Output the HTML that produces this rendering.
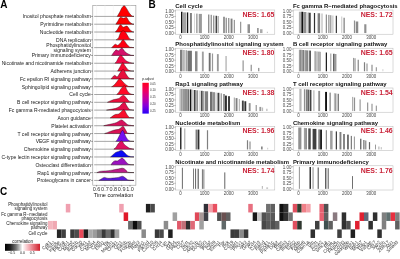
<!DOCTYPE html>
<html><head><meta charset="utf-8"><title>Figure</title>
<style>html,body{margin:0;padding:0;background:#fff;} svg{display:block;}</style></head>
<body><svg width="400" height="259" viewBox="0 0 400 259" font-family="'Liberation Sans', Arial, sans-serif">
<rect width="400" height="259" fill="#fff"/>
<text x="0.2" y="7.65" font-size="10" font-weight="bold">A</text>
<text x="148.6" y="7.65" font-size="10" font-weight="bold">B</text>
<text x="0.1" y="194.8" font-size="10" font-weight="bold">C</text>
<rect x="92.8" y="5.3" width="43.10000000000001" height="179.89999999999998" fill="#fff" stroke="#8a8a8a" stroke-width="0.55"/>
<line x1="96.60" y1="5.3" x2="96.60" y2="185.2" stroke="#f0f0f0" stroke-width="0.5"/>
<line x1="104.95" y1="5.3" x2="104.95" y2="185.2" stroke="#f0f0f0" stroke-width="0.5"/>
<line x1="113.30" y1="5.3" x2="113.30" y2="185.2" stroke="#f0f0f0" stroke-width="0.5"/>
<line x1="121.65" y1="5.3" x2="121.65" y2="185.2" stroke="#f0f0f0" stroke-width="0.5"/>
<line x1="130.00" y1="5.3" x2="130.00" y2="185.2" stroke="#f0f0f0" stroke-width="0.5"/>
<line x1="94.2" y1="16.40" x2="134.0" y2="16.40" stroke="#888" stroke-width="0.75"/>
<path d="M117.20,16.40 C117.58,15.77 118.73,14.00 119.50,12.60 C120.27,11.20 121.00,9.15 121.80,8.00 C122.60,6.85 123.45,5.55 124.30,5.70 C125.15,5.85 126.00,7.58 126.90,8.90 C127.80,10.22 128.85,12.42 129.70,13.60 C130.55,14.77 131.42,15.50 132.00,15.95 C132.58,16.40 132.87,16.20 133.20,16.28 C133.53,16.35 133.87,16.38 134.00,16.40 Z" fill="#FF0000" stroke="#1a0006" stroke-opacity="0.75" stroke-width="0.5"/>
<line x1="94.2" y1="24.21" x2="134.0" y2="24.21" stroke="#888" stroke-width="0.75"/>
<path d="M115.80,24.21 C116.10,23.76 116.85,22.66 117.60,21.51 C118.35,20.36 119.30,17.86 120.30,17.31 C121.30,16.76 122.57,18.21 123.60,18.21 C124.63,18.21 125.57,16.76 126.50,17.31 C127.43,17.86 128.28,20.43 129.20,21.51 C130.12,22.58 131.33,23.33 132.00,23.76 C132.67,24.19 132.87,24.01 133.20,24.09 C133.53,24.16 133.87,24.19 134.00,24.21 Z" fill="#FF0000" stroke="#1a0006" stroke-opacity="0.75" stroke-width="0.5"/>
<line x1="94.2" y1="32.02" x2="134.0" y2="32.02" stroke="#888" stroke-width="0.75"/>
<path d="M115.30,32.02 C115.62,31.65 116.35,31.04 117.20,29.82 C118.05,28.60 119.40,25.17 120.40,24.72 C121.40,24.27 122.12,26.89 123.20,27.12 C124.28,27.35 125.82,25.74 126.90,26.12 C127.98,26.50 128.85,28.51 129.70,29.42 C130.55,30.33 131.42,31.16 132.00,31.57 C132.58,31.98 132.87,31.82 133.20,31.90 C133.53,31.97 133.87,32.00 134.00,32.02 Z" fill="#FF0004" stroke="#1a0006" stroke-opacity="0.75" stroke-width="0.5"/>
<line x1="94.2" y1="39.83" x2="134.0" y2="39.83" stroke="#888" stroke-width="0.75"/>
<path d="M116.20,39.83 C116.60,39.46 117.90,38.76 118.60,37.63 C119.30,36.50 119.63,34.18 120.40,33.03 C121.17,31.88 122.27,30.73 123.20,30.73 C124.13,30.73 125.07,31.88 126.00,33.03 C126.93,34.18 127.95,36.57 128.80,37.63 C129.65,38.69 130.45,39.03 131.10,39.38 C131.75,39.73 132.22,39.63 132.70,39.71 C133.18,39.79 133.78,39.81 134.00,39.83 Z" fill="#FF0010" stroke="#1a0006" stroke-opacity="0.75" stroke-width="0.5"/>
<line x1="94.2" y1="47.64" x2="134.0" y2="47.64" stroke="#888" stroke-width="0.75"/>
<path d="M111.60,47.64 C112.22,47.07 114.30,44.62 115.30,44.24 C116.30,43.86 116.75,45.54 117.60,45.34 C118.45,45.14 119.47,43.97 120.40,43.04 C121.33,42.11 122.12,39.52 123.20,39.74 C124.28,39.96 125.82,43.11 126.90,44.34 C127.98,45.57 129.02,46.66 129.70,47.14 C130.38,47.62 130.52,47.13 131.00,47.19 C131.48,47.25 132.10,47.45 132.60,47.52 C133.10,47.60 133.77,47.62 134.00,47.64 Z" fill="#FF0012" stroke="#1a0006" stroke-opacity="0.75" stroke-width="0.5"/>
<line x1="94.2" y1="55.45" x2="134.0" y2="55.45" stroke="#888" stroke-width="0.75"/>
<path d="M111.60,55.45 C111.98,54.90 113.13,53.08 113.90,52.15 C114.67,51.22 115.42,50.08 116.20,49.85 C116.98,49.62 117.67,51.05 118.60,50.75 C119.53,50.45 120.80,47.97 121.80,48.05 C122.80,48.13 123.75,50.40 124.60,51.25 C125.45,52.10 125.90,52.52 126.90,53.15 C127.90,53.77 129.72,54.64 130.60,55.00 C131.48,55.36 131.63,55.25 132.20,55.33 C132.77,55.41 133.70,55.43 134.00,55.45 Z" fill="#D4106A" stroke="#1a0006" stroke-opacity="0.75" stroke-width="0.5"/>
<line x1="94.2" y1="63.26" x2="134.0" y2="63.26" stroke="#888" stroke-width="0.75"/>
<path d="M114.80,63.26 C115.12,62.93 116.07,62.21 116.70,61.26 C117.33,60.31 117.90,58.58 118.60,57.56 C119.30,56.54 120.13,55.16 120.90,55.16 C121.67,55.16 122.43,56.71 123.20,57.56 C123.97,58.41 124.73,59.58 125.50,60.26 C126.27,60.94 126.88,61.23 127.80,61.66 C128.72,62.08 130.20,62.56 131.00,62.81 C131.80,63.06 132.10,63.06 132.60,63.14 C133.10,63.22 133.77,63.24 134.00,63.26 Z" fill="#F20A48" stroke="#1a0006" stroke-opacity="0.75" stroke-width="0.5"/>
<line x1="94.2" y1="71.07" x2="134.0" y2="71.07" stroke="#888" stroke-width="0.75"/>
<path d="M117.60,71.07 C117.98,70.42 119.05,68.57 119.90,67.17 C120.75,65.77 121.85,62.90 122.70,62.67 C123.55,62.44 124.15,64.64 125.00,65.77 C125.85,66.90 127.02,68.66 127.80,69.47 C128.58,70.28 129.12,70.37 129.70,70.62 C130.28,70.87 130.58,70.87 131.30,70.95 C132.02,71.02 133.55,71.05 134.00,71.07 Z" fill="#F50A30" stroke="#1a0006" stroke-opacity="0.75" stroke-width="0.5"/>
<line x1="94.2" y1="78.88" x2="134.0" y2="78.88" stroke="#888" stroke-width="0.75"/>
<path d="M111.10,78.88 C111.65,78.30 113.38,75.73 114.40,75.38 C115.42,75.03 116.28,77.16 117.20,76.78 C118.12,76.40 118.90,74.31 119.90,73.08 C120.90,71.85 122.18,69.23 123.20,69.38 C124.22,69.53 125.15,72.66 126.00,73.98 C126.85,75.30 127.62,76.54 128.30,77.28 C128.98,78.02 129.53,78.18 130.10,78.43 C130.67,78.68 131.05,78.68 131.70,78.76 C132.35,78.83 133.62,78.86 134.00,78.88 Z" fill="#E8103E" stroke="#1a0006" stroke-opacity="0.75" stroke-width="0.5"/>
<line x1="94.2" y1="86.69" x2="134.0" y2="86.69" stroke="#888" stroke-width="0.75"/>
<path d="M111.60,86.69 C111.98,86.46 113.05,86.07 113.90,85.29 C114.75,84.51 115.77,83.07 116.70,81.99 C117.63,80.91 118.57,78.94 119.50,78.79 C120.43,78.64 121.38,80.24 122.30,81.09 C123.22,81.94 124.00,83.03 125.00,83.89 C126.00,84.75 127.48,85.79 128.30,86.24 C129.12,86.69 128.95,86.49 129.90,86.57 C130.85,86.64 133.32,86.67 134.00,86.69 Z" fill="#FF0A20" stroke="#1a0006" stroke-opacity="0.75" stroke-width="0.5"/>
<line x1="94.2" y1="94.50" x2="134.0" y2="94.50" stroke="#888" stroke-width="0.75"/>
<path d="M116.70,94.50 C117.02,94.18 117.90,93.53 118.60,92.60 C119.30,91.67 119.90,90.05 120.90,88.90 C121.90,87.75 123.60,85.53 124.60,85.70 C125.60,85.87 126.13,88.67 126.90,89.90 C127.67,91.13 128.50,92.41 129.20,93.10 C129.90,93.79 130.52,93.84 131.10,94.05 C131.68,94.26 132.22,94.30 132.70,94.38 C133.18,94.45 133.78,94.48 134.00,94.50 Z" fill="#FF0A28" stroke="#1a0006" stroke-opacity="0.75" stroke-width="0.5"/>
<line x1="94.2" y1="102.31" x2="134.0" y2="102.31" stroke="#888" stroke-width="0.75"/>
<path d="M107.40,102.31 C107.87,102.08 109.12,101.38 110.20,100.91 C111.28,100.44 112.50,99.89 113.90,99.51 C115.30,99.13 117.43,99.08 118.60,98.61 C119.77,98.14 120.05,97.26 120.90,96.71 C121.75,96.16 122.78,95.08 123.70,95.31 C124.62,95.54 125.55,97.18 126.40,98.11 C127.25,99.04 128.02,100.28 128.80,100.91 C129.58,101.53 130.45,101.65 131.10,101.86 C131.75,102.07 132.22,102.11 132.70,102.19 C133.18,102.27 133.78,102.29 134.00,102.31 Z" fill="#EC103E" stroke="#1a0006" stroke-opacity="0.75" stroke-width="0.5"/>
<line x1="94.2" y1="110.12" x2="134.0" y2="110.12" stroke="#888" stroke-width="0.75"/>
<path d="M106.50,110.12 C107.27,109.97 109.55,109.52 111.10,109.22 C112.65,108.92 114.40,108.79 115.80,108.32 C117.20,107.85 118.42,107.20 119.50,106.42 C120.58,105.64 121.45,104.30 122.30,103.62 C123.15,102.94 123.83,101.92 124.60,102.32 C125.37,102.72 126.13,104.87 126.90,106.02 C127.67,107.17 128.50,108.61 129.20,109.22 C129.90,109.83 130.52,109.54 131.10,109.67 C131.68,109.80 132.22,109.92 132.70,110.00 C133.18,110.08 133.78,110.10 134.00,110.12 Z" fill="#E2104A" stroke="#1a0006" stroke-opacity="0.75" stroke-width="0.5"/>
<line x1="94.2" y1="117.93" x2="134.0" y2="117.93" stroke="#888" stroke-width="0.75"/>
<path d="M110.20,117.93 C110.67,117.58 112.15,116.41 113.00,115.83 C113.85,115.25 114.37,114.73 115.30,114.43 C116.23,114.13 117.52,114.56 118.60,114.03 C119.68,113.50 120.88,111.93 121.80,111.23 C122.72,110.53 123.25,109.30 124.10,109.83 C124.95,110.36 125.97,113.11 126.90,114.43 C127.83,115.75 129.08,117.22 129.70,117.73 C130.32,117.93 130.18,117.47 130.60,117.48 C131.02,117.49 131.63,117.73 132.20,117.81 C132.77,117.89 133.70,117.91 134.00,117.93 Z" fill="#F8102C" stroke="#1a0006" stroke-opacity="0.75" stroke-width="0.5"/>
<line x1="94.2" y1="125.74" x2="134.0" y2="125.74" stroke="#888" stroke-width="0.75"/>
<path d="M103.70,125.74 C104.32,125.57 106.00,125.06 107.40,124.74 C108.80,124.42 110.55,124.22 112.10,123.84 C113.65,123.46 115.47,122.97 116.70,122.44 C117.93,121.91 118.65,121.06 119.50,120.64 C120.35,120.22 120.95,119.71 121.80,119.94 C122.65,120.17 123.60,121.24 124.60,122.04 C125.60,122.84 126.80,124.20 127.80,124.74 C128.80,125.28 129.87,125.14 130.60,125.29 C131.33,125.44 131.63,125.54 132.20,125.62 C132.77,125.69 133.70,125.72 134.00,125.74 Z" fill="#D8105C" stroke="#1a0006" stroke-opacity="0.75" stroke-width="0.5"/>
<line x1="94.2" y1="133.55" x2="134.0" y2="133.55" stroke="#888" stroke-width="0.75"/>
<path d="M104.60,133.55 C105.22,133.32 107.05,132.62 108.30,132.15 C109.55,131.68 110.93,131.13 112.10,130.75 C113.27,130.37 114.22,130.08 115.30,129.85 C116.38,129.62 117.60,129.75 118.60,129.35 C119.60,128.95 120.53,127.95 121.30,127.45 C122.07,126.95 122.50,125.95 123.20,126.35 C123.90,126.75 124.80,128.73 125.50,129.85 C126.20,130.97 126.93,132.51 127.40,133.05 C127.87,133.55 127.88,133.04 128.30,133.10 C128.72,133.16 128.95,133.35 129.90,133.43 C130.85,133.50 133.32,133.53 134.00,133.55 Z" fill="#D81054" stroke="#1a0006" stroke-opacity="0.75" stroke-width="0.5"/>
<line x1="94.2" y1="141.36" x2="134.0" y2="141.36" stroke="#888" stroke-width="0.75"/>
<path d="M115.80,141.36 C116.10,140.99 116.92,140.29 117.60,139.16 C118.28,138.03 119.05,136.03 119.90,134.56 C120.75,133.09 121.77,130.13 122.70,130.36 C123.63,130.59 124.72,134.49 125.50,135.96 C126.28,137.43 126.70,138.33 127.40,139.16 C128.10,139.99 129.05,140.56 129.70,140.91 C130.35,141.26 130.58,141.16 131.30,141.24 C132.02,141.31 133.55,141.34 134.00,141.36 Z" fill="#7210F0" stroke="#1a0006" stroke-opacity="0.75" stroke-width="0.5"/>
<line x1="94.2" y1="149.17" x2="134.0" y2="149.17" stroke="#888" stroke-width="0.75"/>
<path d="M113.90,149.17 C114.28,148.80 115.42,147.95 116.20,146.97 C116.98,145.99 117.67,144.27 118.60,143.27 C119.53,142.27 120.88,140.82 121.80,140.97 C122.72,141.12 123.25,143.24 124.10,144.17 C124.95,145.10 125.97,145.87 126.90,146.57 C127.83,147.27 128.85,148.01 129.70,148.37 C130.55,148.73 131.42,148.61 132.00,148.72 C132.58,148.83 132.87,148.97 133.20,149.05 C133.53,149.12 133.87,149.15 134.00,149.17 Z" fill="#E01062" stroke="#1a0006" stroke-opacity="0.75" stroke-width="0.5"/>
<line x1="94.2" y1="156.98" x2="134.0" y2="156.98" stroke="#888" stroke-width="0.75"/>
<path d="M110.50,156.98 C110.88,156.63 111.95,155.63 112.80,154.88 C113.65,154.13 114.67,153.06 115.60,152.48 C116.53,151.90 117.38,151.71 118.40,151.38 C119.42,151.05 120.70,150.30 121.70,150.48 C122.70,150.66 123.55,151.75 124.40,152.48 C125.25,153.21 125.87,154.20 126.80,154.88 C127.73,155.56 129.20,156.20 130.00,156.53 C130.80,156.86 130.93,156.78 131.60,156.86 C132.27,156.93 133.60,156.96 134.00,156.98 Z" fill="#0A0AF5" stroke="#1a0006" stroke-opacity="0.75" stroke-width="0.5"/>
<line x1="94.2" y1="164.79" x2="134.0" y2="164.79" stroke="#888" stroke-width="0.75"/>
<path d="M111.00,164.79 C111.30,164.37 112.18,162.94 112.80,162.29 C113.42,161.64 113.92,161.12 114.70,160.89 C115.48,160.66 116.57,161.21 117.50,160.89 C118.43,160.57 119.50,159.46 120.30,158.99 C121.10,158.52 121.53,157.86 122.30,158.09 C123.07,158.32 124.08,159.54 124.90,160.39 C125.72,161.24 126.50,162.53 127.20,163.19 C127.90,163.85 128.52,164.09 129.10,164.34 C129.68,164.59 129.88,164.59 130.70,164.67 C131.52,164.74 133.45,164.77 134.00,164.79 Z" fill="#9A12C0" stroke="#1a0006" stroke-opacity="0.75" stroke-width="0.5"/>
<line x1="94.2" y1="172.60" x2="134.0" y2="172.60" stroke="#888" stroke-width="0.75"/>
<path d="M96.90,172.60 C97.37,172.40 98.62,171.67 99.70,171.40 C100.78,171.13 102.00,171.12 103.40,171.00 C104.80,170.88 106.55,170.87 108.10,170.70 C109.65,170.53 111.17,170.27 112.70,170.00 C114.23,169.73 115.60,169.40 117.30,169.10 C119.00,168.80 121.50,168.05 122.90,168.20 C124.30,168.35 124.85,169.32 125.70,170.00 C126.55,170.68 127.53,171.94 128.00,172.30 C128.47,172.60 128.15,172.12 128.50,172.15 C128.85,172.18 129.18,172.41 130.10,172.48 C131.02,172.55 133.35,172.58 134.00,172.60 Z" fill="#BC1C88" stroke="#1a0006" stroke-opacity="0.75" stroke-width="0.5"/>
<line x1="94.2" y1="180.41" x2="134.0" y2="180.41" stroke="#888" stroke-width="0.75"/>
<path d="M98.80,180.41 C99.27,180.14 100.68,179.31 101.60,178.81 C102.52,178.31 103.22,177.49 104.30,177.41 C105.38,177.33 106.70,178.21 108.10,178.31 C109.50,178.41 111.00,178.16 112.70,178.01 C114.40,177.86 116.68,177.71 118.30,177.41 C119.92,177.11 121.25,176.14 122.40,176.21 C123.55,176.28 124.35,177.23 125.20,177.81 C126.05,178.39 126.95,179.35 127.50,179.71 C128.05,180.07 128.07,179.86 128.50,179.96 C128.93,180.06 129.18,180.22 130.10,180.29 C131.02,180.36 133.35,180.39 134.00,180.41 Z" fill="#5A18E0" stroke="#1a0006" stroke-opacity="0.75" stroke-width="0.5"/>
<line x1="91.2" y1="16.40" x2="92.8" y2="16.40" stroke="#333" stroke-width="0.5"/>
<text x="90.9" y="18.35" font-size="5.05" text-anchor="end" fill="#1a1a1a">Inositol phosphate metabolism</text>
<line x1="91.2" y1="24.21" x2="92.8" y2="24.21" stroke="#333" stroke-width="0.5"/>
<text x="90.9" y="26.16" font-size="5.05" text-anchor="end" fill="#1a1a1a">Pyrimidine metabolism</text>
<line x1="91.2" y1="32.02" x2="92.8" y2="32.02" stroke="#333" stroke-width="0.5"/>
<text x="90.9" y="33.97" font-size="5.05" text-anchor="end" fill="#1a1a1a">Nucleotide metabolism</text>
<line x1="91.2" y1="39.83" x2="92.8" y2="39.83" stroke="#333" stroke-width="0.5"/>
<text x="90.9" y="41.78" font-size="5.05" text-anchor="end" fill="#1a1a1a">DNA replication</text>
<line x1="91.2" y1="47.64" x2="92.8" y2="47.64" stroke="#333" stroke-width="0.5"/>
<line x1="91.2" y1="55.45" x2="92.8" y2="55.45" stroke="#333" stroke-width="0.5"/>
<text x="90.9" y="57.40" font-size="5.05" text-anchor="end" fill="#1a1a1a">Primary immunodeficiency</text>
<line x1="91.2" y1="63.26" x2="92.8" y2="63.26" stroke="#333" stroke-width="0.5"/>
<text x="90.9" y="65.21" font-size="5.05" text-anchor="end" fill="#1a1a1a">Nicotinate and nicotinamide metabolism</text>
<line x1="91.2" y1="71.07" x2="92.8" y2="71.07" stroke="#333" stroke-width="0.5"/>
<text x="90.9" y="73.02" font-size="5.05" text-anchor="end" fill="#1a1a1a">Adherens junction</text>
<line x1="91.2" y1="78.88" x2="92.8" y2="78.88" stroke="#333" stroke-width="0.5"/>
<text x="90.9" y="80.83" font-size="5.05" text-anchor="end" fill="#1a1a1a">Fc epsilon RI signaling pathway</text>
<line x1="91.2" y1="86.69" x2="92.8" y2="86.69" stroke="#333" stroke-width="0.5"/>
<text x="90.9" y="88.64" font-size="5.05" text-anchor="end" fill="#1a1a1a">Sphingolipid signaling pathway</text>
<line x1="91.2" y1="94.50" x2="92.8" y2="94.50" stroke="#333" stroke-width="0.5"/>
<text x="90.9" y="96.45" font-size="5.05" text-anchor="end" fill="#1a1a1a">Cell cycle</text>
<line x1="91.2" y1="102.31" x2="92.8" y2="102.31" stroke="#333" stroke-width="0.5"/>
<text x="90.9" y="104.26" font-size="5.05" text-anchor="end" fill="#1a1a1a">B cell receptor signaling pathway</text>
<line x1="91.2" y1="110.12" x2="92.8" y2="110.12" stroke="#333" stroke-width="0.5"/>
<text x="90.9" y="112.07" font-size="5.05" text-anchor="end" fill="#1a1a1a">Fc gamma R-mediated phagocytosis</text>
<line x1="91.2" y1="117.93" x2="92.8" y2="117.93" stroke="#333" stroke-width="0.5"/>
<text x="90.9" y="119.88" font-size="5.05" text-anchor="end" fill="#1a1a1a">Axon guidance</text>
<line x1="91.2" y1="125.74" x2="92.8" y2="125.74" stroke="#333" stroke-width="0.5"/>
<text x="90.9" y="127.69" font-size="5.05" text-anchor="end" fill="#1a1a1a">Platelet activation</text>
<line x1="91.2" y1="133.55" x2="92.8" y2="133.55" stroke="#333" stroke-width="0.5"/>
<text x="90.9" y="135.50" font-size="5.05" text-anchor="end" fill="#1a1a1a">T cell receptor signaling pathway</text>
<line x1="91.2" y1="141.36" x2="92.8" y2="141.36" stroke="#333" stroke-width="0.5"/>
<text x="90.9" y="143.31" font-size="5.05" text-anchor="end" fill="#1a1a1a">VEGF signaling pathway</text>
<line x1="91.2" y1="149.17" x2="92.8" y2="149.17" stroke="#333" stroke-width="0.5"/>
<text x="90.9" y="151.12" font-size="5.05" text-anchor="end" fill="#1a1a1a">Chemokine signaling pathway</text>
<line x1="91.2" y1="156.98" x2="92.8" y2="156.98" stroke="#333" stroke-width="0.5"/>
<text x="90.9" y="158.93" font-size="5.05" text-anchor="end" fill="#1a1a1a">C-type lectin receptor signaling pathway</text>
<line x1="91.2" y1="164.79" x2="92.8" y2="164.79" stroke="#333" stroke-width="0.5"/>
<text x="90.9" y="166.74" font-size="5.05" text-anchor="end" fill="#1a1a1a">Osteoclast differentiation</text>
<line x1="91.2" y1="172.60" x2="92.8" y2="172.60" stroke="#333" stroke-width="0.5"/>
<text x="90.9" y="174.55" font-size="5.05" text-anchor="end" fill="#1a1a1a">Rap1 signaling pathway</text>
<line x1="91.2" y1="180.41" x2="92.8" y2="180.41" stroke="#333" stroke-width="0.5"/>
<text x="90.9" y="182.36" font-size="5.05" text-anchor="end" fill="#1a1a1a">Proteoglycans in cancer</text>
<text x="90.9" y="47.04" font-size="5.05" text-anchor="end" fill="#1a1a1a">Phosphatidylinositol</text>
<text x="90.9" y="52.14" font-size="5.05" text-anchor="end" fill="#1a1a1a">signaling system</text>
<line x1="96.60" y1="185.2" x2="96.60" y2="186.5" stroke="#333" stroke-width="0.5"/>
<text x="96.60" y="191.1" font-size="5.5" text-anchor="middle" fill="#333">0.6</text>
<line x1="104.95" y1="185.2" x2="104.95" y2="186.5" stroke="#333" stroke-width="0.5"/>
<text x="104.95" y="191.1" font-size="5.5" text-anchor="middle" fill="#333">0.7</text>
<line x1="113.30" y1="185.2" x2="113.30" y2="186.5" stroke="#333" stroke-width="0.5"/>
<text x="113.30" y="191.1" font-size="5.5" text-anchor="middle" fill="#333">0.8</text>
<line x1="121.65" y1="185.2" x2="121.65" y2="186.5" stroke="#333" stroke-width="0.5"/>
<text x="121.65" y="191.1" font-size="5.5" text-anchor="middle" fill="#333">0.9</text>
<line x1="130.00" y1="185.2" x2="130.00" y2="186.5" stroke="#333" stroke-width="0.5"/>
<text x="130.00" y="191.1" font-size="5.5" text-anchor="middle" fill="#333">1.0</text>
<text x="113.6" y="197.2" font-size="5.55" text-anchor="middle" fill="#111">Time correlation</text>
<text x="142.2" y="79.9" font-size="3.3" fill="#222">p.adjust</text>
<defs><linearGradient id="gp" x1="0" y1="0" x2="0" y2="1"><stop offset="0" stop-color="#FF0020"/><stop offset="0.25" stop-color="#F00060"/><stop offset="0.5" stop-color="#C400A0"/><stop offset="0.75" stop-color="#8400DC"/><stop offset="1" stop-color="#2800F8"/></linearGradient></defs>
<rect x="142.4" y="82.8" width="6.4" height="30.8" fill="url(#gp)"/>
<text x="150.1" y="85.00" font-size="2.9" fill="#333">0.05</text>
<text x="150.1" y="91.30" font-size="2.9" fill="#333">0.10</text>
<text x="150.1" y="98.00" font-size="2.9" fill="#333">0.15</text>
<text x="150.1" y="105.00" font-size="2.9" fill="#333">0.20</text>
<text x="150.1" y="111.60" font-size="2.9" fill="#333">0.25</text>
<text x="175.30" y="8.10" font-size="5.95" font-weight="bold" fill="#111">Cell cycle</text>
<rect x="175.6" y="10.0" width="99.2" height="24.2" fill="#fff" stroke="#b4b4b4" stroke-width="0.5"/>
<rect x="181.00" y="11.75" width="1.50" height="21.30" fill="#111"/>
<rect x="182.50" y="12.40" width="3.70" height="20.65" fill="#a4a4a4"/>
<rect x="186.90" y="12.40" width="1.20" height="20.65" fill="#141414"/>
<rect x="188.10" y="12.50" width="1.10" height="20.55" fill="#c8c8c8"/>
<rect x="190.00" y="13.00" width="1.90" height="20.05" fill="#808080"/>
<rect x="194.40" y="13.50" width="0.60" height="19.55" fill="#c0c0c0"/>
<rect x="196.25" y="13.60" width="1.25" height="19.45" fill="#909090"/>
<rect x="198.75" y="13.90" width="3.15" height="19.15" fill="#9a9a9a"/>
<rect x="208.00" y="14.50" width="1.40" height="18.55" fill="#909090"/>
<rect x="210.60" y="14.80" width="1.30" height="18.25" fill="#909090"/>
<rect x="213.00" y="15.50" width="1.40" height="17.55" fill="#999"/>
<rect x="215.60" y="15.75" width="1.30" height="17.30" fill="#303030"/>
<rect x="217.50" y="16.00" width="1.25" height="17.05" fill="#a0a0a0"/>
<rect x="223.00" y="16.75" width="2.00" height="16.30" fill="#999"/>
<rect x="225.60" y="17.75" width="1.30" height="15.30" fill="#909090"/>
<rect x="228.00" y="18.00" width="1.40" height="15.05" fill="#999"/>
<rect x="230.60" y="18.60" width="1.90" height="14.45" fill="#808080"/>
<rect x="233.75" y="19.90" width="1.25" height="13.15" fill="#999"/>
<rect x="240.00" y="21.75" width="1.25" height="11.30" fill="#999"/>
<rect x="247.50" y="24.25" width="2.50" height="8.80" fill="#909090"/>
<rect x="257.00" y="28.00" width="1.75" height="5.05" fill="#999"/>
<rect x="260.00" y="29.25" width="2.50" height="3.80" fill="#aaa"/>
<rect x="266.90" y="31.75" width="0.60" height="1.30" fill="#999"/>
<line x1="174.20" y1="10.90" x2="175.60" y2="10.90" stroke="#555" stroke-width="0.4"/>
<text x="173.80" y="12.80" font-size="4.45" text-anchor="end" fill="#444">1.00</text>
<line x1="174.20" y1="16.44" x2="175.60" y2="16.44" stroke="#555" stroke-width="0.4"/>
<text x="173.80" y="18.34" font-size="4.45" text-anchor="end" fill="#444">0.75</text>
<line x1="174.20" y1="21.98" x2="175.60" y2="21.98" stroke="#555" stroke-width="0.4"/>
<text x="173.80" y="23.88" font-size="4.45" text-anchor="end" fill="#444">0.50</text>
<line x1="174.20" y1="27.51" x2="175.60" y2="27.51" stroke="#555" stroke-width="0.4"/>
<text x="173.80" y="29.41" font-size="4.45" text-anchor="end" fill="#444">0.25</text>
<line x1="174.20" y1="33.05" x2="175.60" y2="33.05" stroke="#555" stroke-width="0.4"/>
<text x="173.80" y="34.95" font-size="4.45" text-anchor="end" fill="#444">0.00</text>
<line x1="180.40" y1="34.20" x2="180.40" y2="35.40" stroke="#555" stroke-width="0.4"/>
<text x="180.40" y="39.30" font-size="4.45" text-anchor="middle" fill="#444">0</text>
<line x1="204.60" y1="34.20" x2="204.60" y2="35.40" stroke="#555" stroke-width="0.4"/>
<text x="204.60" y="39.30" font-size="4.45" text-anchor="middle" fill="#444">1000</text>
<line x1="228.80" y1="34.20" x2="228.80" y2="35.40" stroke="#555" stroke-width="0.4"/>
<text x="228.80" y="39.30" font-size="4.45" text-anchor="middle" fill="#444">2000</text>
<line x1="253.00" y1="34.20" x2="253.00" y2="35.40" stroke="#555" stroke-width="0.4"/>
<text x="253.00" y="39.30" font-size="4.45" text-anchor="middle" fill="#444">3000</text>
<text x="274.45" y="16.80" font-size="6.95" font-weight="bold" text-anchor="end" fill="#C92238">NES: 1.65</text>
<text x="175.30" y="46.30" font-size="5.95" font-weight="bold" fill="#111">Phosphatidylinositol signaling system</text>
<rect x="175.6" y="48.2" width="99.2" height="24.2" fill="#fff" stroke="#b4b4b4" stroke-width="0.5"/>
<rect x="180.00" y="49.75" width="2.50" height="21.50" fill="#808080"/>
<rect x="183.10" y="50.00" width="0.65" height="21.25" fill="#909090"/>
<rect x="184.40" y="50.00" width="0.60" height="21.25" fill="#999"/>
<rect x="185.60" y="50.20" width="1.30" height="21.05" fill="#999"/>
<rect x="187.50" y="50.75" width="4.40" height="20.50" fill="#737373"/>
<rect x="195.00" y="51.25" width="2.50" height="20.00" fill="#8a8a8a"/>
<rect x="201.90" y="51.60" width="1.85" height="19.65" fill="#a0a0a0"/>
<rect x="208.75" y="52.90" width="1.85" height="18.35" fill="#707070"/>
<rect x="211.90" y="53.50" width="1.20" height="17.75" fill="#999"/>
<rect x="216.90" y="54.10" width="1.85" height="17.15" fill="#999"/>
<rect x="225.60" y="56.00" width="0.90" height="15.25" fill="#909090"/>
<rect x="242.50" y="60.40" width="1.25" height="10.85" fill="#999"/>
<rect x="250.60" y="64.75" width="1.30" height="6.50" fill="#999"/>
<rect x="258.00" y="67.90" width="1.40" height="3.35" fill="#999"/>
<line x1="174.20" y1="49.10" x2="175.60" y2="49.10" stroke="#555" stroke-width="0.4"/>
<text x="173.80" y="51.00" font-size="4.45" text-anchor="end" fill="#444">1.00</text>
<line x1="174.20" y1="54.64" x2="175.60" y2="54.64" stroke="#555" stroke-width="0.4"/>
<text x="173.80" y="56.54" font-size="4.45" text-anchor="end" fill="#444">0.75</text>
<line x1="174.20" y1="60.17" x2="175.60" y2="60.17" stroke="#555" stroke-width="0.4"/>
<text x="173.80" y="62.07" font-size="4.45" text-anchor="end" fill="#444">0.50</text>
<line x1="174.20" y1="65.71" x2="175.60" y2="65.71" stroke="#555" stroke-width="0.4"/>
<text x="173.80" y="67.61" font-size="4.45" text-anchor="end" fill="#444">0.25</text>
<line x1="174.20" y1="71.25" x2="175.60" y2="71.25" stroke="#555" stroke-width="0.4"/>
<text x="173.80" y="73.15" font-size="4.45" text-anchor="end" fill="#444">0.00</text>
<line x1="180.40" y1="72.40" x2="180.40" y2="73.60" stroke="#555" stroke-width="0.4"/>
<text x="180.40" y="77.50" font-size="4.45" text-anchor="middle" fill="#444">0</text>
<line x1="204.60" y1="72.40" x2="204.60" y2="73.60" stroke="#555" stroke-width="0.4"/>
<text x="204.60" y="77.50" font-size="4.45" text-anchor="middle" fill="#444">1000</text>
<line x1="228.80" y1="72.40" x2="228.80" y2="73.60" stroke="#555" stroke-width="0.4"/>
<text x="228.80" y="77.50" font-size="4.45" text-anchor="middle" fill="#444">2000</text>
<line x1="253.00" y1="72.40" x2="253.00" y2="73.60" stroke="#555" stroke-width="0.4"/>
<text x="253.00" y="77.50" font-size="4.45" text-anchor="middle" fill="#444">3000</text>
<text x="274.45" y="55.00" font-size="6.95" font-weight="bold" text-anchor="end" fill="#C92238">NES: 1.80</text>
<text x="175.30" y="86.10" font-size="5.95" font-weight="bold" fill="#111">Rap1 signaling pathway</text>
<rect x="175.6" y="88.0" width="99.2" height="24.2" fill="#fff" stroke="#b4b4b4" stroke-width="0.5"/>
<rect x="179.40" y="88.90" width="1.20" height="22.15" fill="#c0c0c0"/>
<rect x="180.60" y="88.90" width="1.90" height="22.15" fill="#a0a0a0"/>
<rect x="182.50" y="89.00" width="2.50" height="22.05" fill="#989898"/>
<rect x="185.00" y="89.00" width="2.50" height="22.05" fill="#909090"/>
<rect x="187.50" y="89.20" width="1.90" height="21.85" fill="#707070"/>
<rect x="190.00" y="89.40" width="1.25" height="21.65" fill="#111"/>
<rect x="191.25" y="89.60" width="1.25" height="21.45" fill="#999"/>
<rect x="193.75" y="90.00" width="1.85" height="21.05" fill="#404040"/>
<rect x="196.25" y="90.30" width="1.85" height="20.75" fill="#909090"/>
<rect x="199.40" y="90.60" width="1.20" height="20.45" fill="#c0c0c0"/>
<rect x="201.25" y="90.80" width="1.25" height="20.25" fill="#111"/>
<rect x="203.10" y="91.00" width="1.30" height="20.05" fill="#999"/>
<rect x="205.00" y="91.30" width="3.10" height="19.75" fill="#808080"/>
<rect x="210.00" y="91.80" width="2.50" height="19.25" fill="#707070"/>
<rect x="212.50" y="92.20" width="2.50" height="18.85" fill="#909090"/>
<rect x="215.50" y="92.50" width="1.00" height="18.55" fill="#c0c0c0"/>
<rect x="217.50" y="92.80" width="1.90" height="18.25" fill="#404040"/>
<rect x="220.60" y="93.30" width="1.30" height="17.75" fill="#999"/>
<rect x="223.00" y="94.00" width="2.00" height="17.05" fill="#999"/>
<rect x="225.00" y="95.60" width="1.90" height="15.45" fill="#303030"/>
<rect x="228.00" y="96.20" width="2.00" height="14.85" fill="#404040"/>
<rect x="233.75" y="97.50" width="1.25" height="13.55" fill="#b0b0b0"/>
<rect x="235.60" y="98.10" width="1.90" height="12.95" fill="#808080"/>
<rect x="238.75" y="99.00" width="1.25" height="12.05" fill="#bbb"/>
<rect x="241.90" y="100.60" width="1.85" height="10.45" fill="#404040"/>
<rect x="244.40" y="101.25" width="1.85" height="9.80" fill="#303030"/>
<rect x="248.75" y="103.10" width="1.85" height="7.95" fill="#909090"/>
<rect x="255.60" y="105.00" width="1.30" height="6.05" fill="#a0a0a0"/>
<rect x="259.40" y="106.90" width="1.85" height="4.15" fill="#999"/>
<rect x="261.90" y="107.50" width="1.20" height="3.55" fill="#bbb"/>
<rect x="266.25" y="108.75" width="1.25" height="2.30" fill="#bbb"/>
<line x1="174.20" y1="88.90" x2="175.60" y2="88.90" stroke="#555" stroke-width="0.4"/>
<text x="173.80" y="90.80" font-size="4.45" text-anchor="end" fill="#444">1.00</text>
<line x1="174.20" y1="94.44" x2="175.60" y2="94.44" stroke="#555" stroke-width="0.4"/>
<text x="173.80" y="96.34" font-size="4.45" text-anchor="end" fill="#444">0.75</text>
<line x1="174.20" y1="99.97" x2="175.60" y2="99.97" stroke="#555" stroke-width="0.4"/>
<text x="173.80" y="101.88" font-size="4.45" text-anchor="end" fill="#444">0.50</text>
<line x1="174.20" y1="105.51" x2="175.60" y2="105.51" stroke="#555" stroke-width="0.4"/>
<text x="173.80" y="107.41" font-size="4.45" text-anchor="end" fill="#444">0.25</text>
<line x1="174.20" y1="111.05" x2="175.60" y2="111.05" stroke="#555" stroke-width="0.4"/>
<text x="173.80" y="112.95" font-size="4.45" text-anchor="end" fill="#444">0.00</text>
<line x1="180.40" y1="112.20" x2="180.40" y2="113.40" stroke="#555" stroke-width="0.4"/>
<text x="180.40" y="117.30" font-size="4.45" text-anchor="middle" fill="#444">0</text>
<line x1="204.60" y1="112.20" x2="204.60" y2="113.40" stroke="#555" stroke-width="0.4"/>
<text x="204.60" y="117.30" font-size="4.45" text-anchor="middle" fill="#444">1000</text>
<line x1="228.80" y1="112.20" x2="228.80" y2="113.40" stroke="#555" stroke-width="0.4"/>
<text x="228.80" y="117.30" font-size="4.45" text-anchor="middle" fill="#444">2000</text>
<line x1="253.00" y1="112.20" x2="253.00" y2="113.40" stroke="#555" stroke-width="0.4"/>
<text x="253.00" y="117.30" font-size="4.45" text-anchor="middle" fill="#444">3000</text>
<text x="274.45" y="94.80" font-size="6.95" font-weight="bold" text-anchor="end" fill="#C92238">NES: 1.38</text>
<text x="175.30" y="124.50" font-size="5.95" font-weight="bold" fill="#111">Nucleotide metabolism</text>
<rect x="175.6" y="126.4" width="99.2" height="24.2" fill="#fff" stroke="#b4b4b4" stroke-width="0.5"/>
<rect x="180.00" y="127.50" width="1.50" height="21.95" fill="#303030"/>
<rect x="184.40" y="128.40" width="0.85" height="21.05" fill="#909090"/>
<rect x="195.60" y="129.60" width="1.30" height="19.85" fill="#707070"/>
<rect x="197.50" y="129.60" width="1.90" height="19.85" fill="#303030"/>
<rect x="206.90" y="130.25" width="1.20" height="19.20" fill="#808080"/>
<rect x="246.90" y="140.25" width="1.20" height="9.20" fill="#808080"/>
<rect x="249.40" y="141.50" width="1.20" height="7.95" fill="#909090"/>
<rect x="261.25" y="146.50" width="1.25" height="2.95" fill="#606060"/>
<rect x="267.50" y="147.75" width="0.60" height="1.70" fill="#aaa"/>
<line x1="174.20" y1="127.30" x2="175.60" y2="127.30" stroke="#555" stroke-width="0.4"/>
<text x="173.80" y="129.20" font-size="4.45" text-anchor="end" fill="#444">1.00</text>
<line x1="174.20" y1="132.84" x2="175.60" y2="132.84" stroke="#555" stroke-width="0.4"/>
<text x="173.80" y="134.74" font-size="4.45" text-anchor="end" fill="#444">0.75</text>
<line x1="174.20" y1="138.38" x2="175.60" y2="138.38" stroke="#555" stroke-width="0.4"/>
<text x="173.80" y="140.28" font-size="4.45" text-anchor="end" fill="#444">0.50</text>
<line x1="174.20" y1="143.91" x2="175.60" y2="143.91" stroke="#555" stroke-width="0.4"/>
<text x="173.80" y="145.81" font-size="4.45" text-anchor="end" fill="#444">0.25</text>
<line x1="174.20" y1="149.45" x2="175.60" y2="149.45" stroke="#555" stroke-width="0.4"/>
<text x="173.80" y="151.35" font-size="4.45" text-anchor="end" fill="#444">0.00</text>
<line x1="180.40" y1="150.60" x2="180.40" y2="151.80" stroke="#555" stroke-width="0.4"/>
<text x="180.40" y="155.70" font-size="4.45" text-anchor="middle" fill="#444">0</text>
<line x1="204.60" y1="150.60" x2="204.60" y2="151.80" stroke="#555" stroke-width="0.4"/>
<text x="204.60" y="155.70" font-size="4.45" text-anchor="middle" fill="#444">1000</text>
<line x1="228.80" y1="150.60" x2="228.80" y2="151.80" stroke="#555" stroke-width="0.4"/>
<text x="228.80" y="155.70" font-size="4.45" text-anchor="middle" fill="#444">2000</text>
<line x1="253.00" y1="150.60" x2="253.00" y2="151.80" stroke="#555" stroke-width="0.4"/>
<text x="253.00" y="155.70" font-size="4.45" text-anchor="middle" fill="#444">3000</text>
<text x="274.45" y="133.20" font-size="6.95" font-weight="bold" text-anchor="end" fill="#C92238">NES: 1.96</text>
<text x="175.30" y="163.90" font-size="5.95" font-weight="bold" fill="#111">Nicotinate and nicotinamide metabolism</text>
<rect x="175.6" y="165.8" width="99.2" height="24.2" fill="#fff" stroke="#b4b4b4" stroke-width="0.5"/>
<rect x="181.90" y="167.75" width="0.85" height="21.10" fill="#505050"/>
<rect x="193.10" y="168.50" width="0.90" height="20.35" fill="#707070"/>
<rect x="195.00" y="168.60" width="0.90" height="20.25" fill="#606060"/>
<rect x="196.90" y="168.70" width="0.60" height="20.15" fill="#808080"/>
<rect x="198.10" y="168.80" width="0.90" height="20.05" fill="#707070"/>
<rect x="201.90" y="169.25" width="1.10" height="19.60" fill="#808080"/>
<rect x="203.30" y="169.40" width="1.10" height="19.45" fill="#8a8a8a"/>
<rect x="224.00" y="172.40" width="1.40" height="16.45" fill="#909090"/>
<rect x="261.90" y="186.00" width="0.60" height="2.85" fill="#808080"/>
<rect x="266.25" y="187.40" width="1.85" height="1.45" fill="#c0c0c0"/>
<line x1="174.20" y1="166.70" x2="175.60" y2="166.70" stroke="#555" stroke-width="0.4"/>
<text x="173.80" y="168.60" font-size="4.45" text-anchor="end" fill="#444">1.00</text>
<line x1="174.20" y1="172.24" x2="175.60" y2="172.24" stroke="#555" stroke-width="0.4"/>
<text x="173.80" y="174.14" font-size="4.45" text-anchor="end" fill="#444">0.75</text>
<line x1="174.20" y1="177.78" x2="175.60" y2="177.78" stroke="#555" stroke-width="0.4"/>
<text x="173.80" y="179.68" font-size="4.45" text-anchor="end" fill="#444">0.50</text>
<line x1="174.20" y1="183.31" x2="175.60" y2="183.31" stroke="#555" stroke-width="0.4"/>
<text x="173.80" y="185.21" font-size="4.45" text-anchor="end" fill="#444">0.25</text>
<line x1="174.20" y1="188.85" x2="175.60" y2="188.85" stroke="#555" stroke-width="0.4"/>
<text x="173.80" y="190.75" font-size="4.45" text-anchor="end" fill="#444">0.00</text>
<line x1="180.40" y1="190.00" x2="180.40" y2="191.20" stroke="#555" stroke-width="0.4"/>
<text x="180.40" y="195.10" font-size="4.45" text-anchor="middle" fill="#444">0</text>
<line x1="204.60" y1="190.00" x2="204.60" y2="191.20" stroke="#555" stroke-width="0.4"/>
<text x="204.60" y="195.10" font-size="4.45" text-anchor="middle" fill="#444">1000</text>
<line x1="228.80" y1="190.00" x2="228.80" y2="191.20" stroke="#555" stroke-width="0.4"/>
<text x="228.80" y="195.10" font-size="4.45" text-anchor="middle" fill="#444">2000</text>
<line x1="253.00" y1="190.00" x2="253.00" y2="191.20" stroke="#555" stroke-width="0.4"/>
<text x="253.00" y="195.10" font-size="4.45" text-anchor="middle" fill="#444">3000</text>
<text x="274.45" y="172.60" font-size="6.95" font-weight="bold" text-anchor="end" fill="#C92238">NES: 1.74</text>
<text x="292.90" y="8.10" font-size="5.95" font-weight="bold" fill="#111">Fc gamma R−mediated phagocytosis</text>
<rect x="293.2" y="10.0" width="99.8" height="24.2" fill="#fff" stroke="#b4b4b4" stroke-width="0.5"/>
<rect x="298.90" y="11.75" width="2.50" height="21.30" fill="#b0b0b0"/>
<rect x="301.40" y="11.75" width="1.85" height="21.30" fill="#111"/>
<rect x="303.25" y="12.00" width="3.15" height="21.05" fill="#909090"/>
<rect x="307.60" y="12.50" width="1.30" height="20.55" fill="#a0a0a0"/>
<rect x="308.90" y="12.75" width="1.85" height="20.30" fill="#404040"/>
<rect x="313.90" y="13.00" width="1.20" height="20.05" fill="#303030"/>
<rect x="317.60" y="13.25" width="2.50" height="19.80" fill="#808080"/>
<rect x="321.40" y="13.50" width="1.20" height="19.55" fill="#bbb"/>
<rect x="325.75" y="14.50" width="1.25" height="18.55" fill="#909090"/>
<rect x="328.25" y="14.90" width="1.25" height="18.15" fill="#909090"/>
<rect x="330.10" y="15.20" width="1.30" height="17.85" fill="#999"/>
<rect x="332.60" y="15.50" width="0.65" height="17.55" fill="#999"/>
<rect x="335.75" y="15.75" width="1.25" height="17.30" fill="#404040"/>
<rect x="341.40" y="16.50" width="0.80" height="16.55" fill="#bbb"/>
<rect x="343.50" y="17.75" width="1.25" height="15.30" fill="#808080"/>
<rect x="353.90" y="20.50" width="1.20" height="12.55" fill="#909090"/>
<rect x="355.75" y="21.50" width="2.50" height="11.55" fill="#8a8a8a"/>
<rect x="364.25" y="24.25" width="2.15" height="8.80" fill="#909090"/>
<line x1="291.80" y1="10.90" x2="293.20" y2="10.90" stroke="#555" stroke-width="0.4"/>
<text x="291.40" y="12.80" font-size="4.45" text-anchor="end" fill="#444">1.00</text>
<line x1="291.80" y1="16.44" x2="293.20" y2="16.44" stroke="#555" stroke-width="0.4"/>
<text x="291.40" y="18.34" font-size="4.45" text-anchor="end" fill="#444">0.75</text>
<line x1="291.80" y1="21.98" x2="293.20" y2="21.98" stroke="#555" stroke-width="0.4"/>
<text x="291.40" y="23.88" font-size="4.45" text-anchor="end" fill="#444">0.50</text>
<line x1="291.80" y1="27.51" x2="293.20" y2="27.51" stroke="#555" stroke-width="0.4"/>
<text x="291.40" y="29.41" font-size="4.45" text-anchor="end" fill="#444">0.25</text>
<line x1="291.80" y1="33.05" x2="293.20" y2="33.05" stroke="#555" stroke-width="0.4"/>
<text x="291.40" y="34.95" font-size="4.45" text-anchor="end" fill="#444">0.00</text>
<line x1="298.60" y1="34.20" x2="298.60" y2="35.40" stroke="#555" stroke-width="0.4"/>
<text x="298.60" y="39.30" font-size="4.45" text-anchor="middle" fill="#444">0</text>
<line x1="322.80" y1="34.20" x2="322.80" y2="35.40" stroke="#555" stroke-width="0.4"/>
<text x="322.80" y="39.30" font-size="4.45" text-anchor="middle" fill="#444">1000</text>
<line x1="347.00" y1="34.20" x2="347.00" y2="35.40" stroke="#555" stroke-width="0.4"/>
<text x="347.00" y="39.30" font-size="4.45" text-anchor="middle" fill="#444">2000</text>
<line x1="371.20" y1="34.20" x2="371.20" y2="35.40" stroke="#555" stroke-width="0.4"/>
<text x="371.20" y="39.30" font-size="4.45" text-anchor="middle" fill="#444">3000</text>
<text x="392.65" y="16.80" font-size="6.95" font-weight="bold" text-anchor="end" fill="#C92238">NES: 1.72</text>
<text x="292.90" y="46.30" font-size="5.95" font-weight="bold" fill="#111">B cell receptor signaling pathway</text>
<rect x="293.2" y="48.2" width="99.8" height="24.2" fill="#fff" stroke="#b4b4b4" stroke-width="0.5"/>
<rect x="298.90" y="49.75" width="1.20" height="21.50" fill="#a0a0a0"/>
<rect x="300.10" y="49.75" width="1.30" height="21.50" fill="#808080"/>
<rect x="301.40" y="49.90" width="1.20" height="21.35" fill="#909090"/>
<rect x="302.60" y="50.00" width="1.30" height="21.25" fill="#707070"/>
<rect x="304.50" y="50.20" width="1.25" height="21.05" fill="#808080"/>
<rect x="305.75" y="50.30" width="1.25" height="20.95" fill="#909090"/>
<rect x="307.00" y="50.40" width="1.25" height="20.85" fill="#888"/>
<rect x="308.90" y="50.50" width="0.60" height="20.75" fill="#999"/>
<rect x="309.50" y="50.60" width="1.25" height="20.65" fill="#202020"/>
<rect x="314.50" y="51.20" width="1.25" height="20.05" fill="#909090"/>
<rect x="316.40" y="51.40" width="1.20" height="19.85" fill="#a0a0a0"/>
<rect x="318.25" y="51.60" width="1.25" height="19.65" fill="#909090"/>
<rect x="319.50" y="51.80" width="1.25" height="19.45" fill="#999"/>
<rect x="325.75" y="52.50" width="1.25" height="18.75" fill="#202020"/>
<rect x="330.10" y="53.50" width="1.30" height="17.75" fill="#b0b0b0"/>
<rect x="333.25" y="53.75" width="1.25" height="17.50" fill="#303030"/>
<rect x="335.10" y="54.00" width="1.30" height="17.25" fill="#909090"/>
<rect x="353.00" y="57.90" width="0.90" height="13.35" fill="#909090"/>
<rect x="354.50" y="58.20" width="1.00" height="13.05" fill="#808080"/>
<rect x="357.60" y="59.75" width="1.30" height="11.50" fill="#909090"/>
<rect x="363.90" y="62.25" width="1.20" height="9.00" fill="#808080"/>
<rect x="366.40" y="63.50" width="1.20" height="7.75" fill="#999"/>
<rect x="371.40" y="64.75" width="1.20" height="6.50" fill="#909090"/>
<rect x="375.75" y="67.25" width="1.25" height="4.00" fill="#a0a0a0"/>
<rect x="382.60" y="69.10" width="0.65" height="2.15" fill="#bbb"/>
<line x1="291.80" y1="49.10" x2="293.20" y2="49.10" stroke="#555" stroke-width="0.4"/>
<text x="291.40" y="51.00" font-size="4.45" text-anchor="end" fill="#444">1.00</text>
<line x1="291.80" y1="54.64" x2="293.20" y2="54.64" stroke="#555" stroke-width="0.4"/>
<text x="291.40" y="56.54" font-size="4.45" text-anchor="end" fill="#444">0.75</text>
<line x1="291.80" y1="60.17" x2="293.20" y2="60.17" stroke="#555" stroke-width="0.4"/>
<text x="291.40" y="62.07" font-size="4.45" text-anchor="end" fill="#444">0.50</text>
<line x1="291.80" y1="65.71" x2="293.20" y2="65.71" stroke="#555" stroke-width="0.4"/>
<text x="291.40" y="67.61" font-size="4.45" text-anchor="end" fill="#444">0.25</text>
<line x1="291.80" y1="71.25" x2="293.20" y2="71.25" stroke="#555" stroke-width="0.4"/>
<text x="291.40" y="73.15" font-size="4.45" text-anchor="end" fill="#444">0.00</text>
<line x1="298.60" y1="72.40" x2="298.60" y2="73.60" stroke="#555" stroke-width="0.4"/>
<text x="298.60" y="77.50" font-size="4.45" text-anchor="middle" fill="#444">0</text>
<line x1="322.80" y1="72.40" x2="322.80" y2="73.60" stroke="#555" stroke-width="0.4"/>
<text x="322.80" y="77.50" font-size="4.45" text-anchor="middle" fill="#444">1000</text>
<line x1="347.00" y1="72.40" x2="347.00" y2="73.60" stroke="#555" stroke-width="0.4"/>
<text x="347.00" y="77.50" font-size="4.45" text-anchor="middle" fill="#444">2000</text>
<line x1="371.20" y1="72.40" x2="371.20" y2="73.60" stroke="#555" stroke-width="0.4"/>
<text x="371.20" y="77.50" font-size="4.45" text-anchor="middle" fill="#444">3000</text>
<text x="392.65" y="55.00" font-size="6.95" font-weight="bold" text-anchor="end" fill="#C92238">NES: 1.65</text>
<text x="292.90" y="86.10" font-size="5.95" font-weight="bold" fill="#111">T cell receptor signaling pathway</text>
<rect x="293.2" y="88.0" width="99.8" height="24.2" fill="#fff" stroke="#b4b4b4" stroke-width="0.5"/>
<rect x="299.50" y="88.90" width="1.25" height="22.15" fill="#a0a0a0"/>
<rect x="301.40" y="88.90" width="0.60" height="22.15" fill="#bbb"/>
<rect x="303.90" y="89.20" width="1.20" height="21.85" fill="#909090"/>
<rect x="305.75" y="89.40" width="1.85" height="21.65" fill="#808080"/>
<rect x="307.60" y="89.60" width="1.90" height="21.45" fill="#606060"/>
<rect x="310.10" y="89.90" width="1.30" height="21.15" fill="#303030"/>
<rect x="313.25" y="90.30" width="1.25" height="20.75" fill="#bbb"/>
<rect x="318.25" y="90.90" width="1.85" height="20.15" fill="#909090"/>
<rect x="325.10" y="91.90" width="1.90" height="19.15" fill="#111"/>
<rect x="329.50" y="92.60" width="1.25" height="18.45" fill="#808080"/>
<rect x="333.90" y="93.20" width="1.20" height="17.85" fill="#bbb"/>
<rect x="335.10" y="93.40" width="1.30" height="17.65" fill="#909090"/>
<rect x="337.60" y="93.80" width="1.30" height="17.25" fill="#707070"/>
<rect x="352.00" y="96.90" width="1.25" height="14.15" fill="#b0b0b0"/>
<rect x="353.90" y="97.50" width="1.20" height="13.55" fill="#909090"/>
<rect x="359.50" y="99.40" width="1.25" height="11.65" fill="#a0a0a0"/>
<rect x="367.00" y="102.50" width="1.25" height="8.55" fill="#999"/>
<rect x="371.40" y="103.75" width="1.20" height="7.30" fill="#999"/>
<rect x="375.75" y="105.60" width="1.25" height="5.45" fill="#a0a0a0"/>
<line x1="291.80" y1="88.90" x2="293.20" y2="88.90" stroke="#555" stroke-width="0.4"/>
<text x="291.40" y="90.80" font-size="4.45" text-anchor="end" fill="#444">1.00</text>
<line x1="291.80" y1="94.44" x2="293.20" y2="94.44" stroke="#555" stroke-width="0.4"/>
<text x="291.40" y="96.34" font-size="4.45" text-anchor="end" fill="#444">0.75</text>
<line x1="291.80" y1="99.97" x2="293.20" y2="99.97" stroke="#555" stroke-width="0.4"/>
<text x="291.40" y="101.88" font-size="4.45" text-anchor="end" fill="#444">0.50</text>
<line x1="291.80" y1="105.51" x2="293.20" y2="105.51" stroke="#555" stroke-width="0.4"/>
<text x="291.40" y="107.41" font-size="4.45" text-anchor="end" fill="#444">0.25</text>
<line x1="291.80" y1="111.05" x2="293.20" y2="111.05" stroke="#555" stroke-width="0.4"/>
<text x="291.40" y="112.95" font-size="4.45" text-anchor="end" fill="#444">0.00</text>
<line x1="298.60" y1="112.20" x2="298.60" y2="113.40" stroke="#555" stroke-width="0.4"/>
<text x="298.60" y="117.30" font-size="4.45" text-anchor="middle" fill="#444">0</text>
<line x1="322.80" y1="112.20" x2="322.80" y2="113.40" stroke="#555" stroke-width="0.4"/>
<text x="322.80" y="117.30" font-size="4.45" text-anchor="middle" fill="#444">1000</text>
<line x1="347.00" y1="112.20" x2="347.00" y2="113.40" stroke="#555" stroke-width="0.4"/>
<text x="347.00" y="117.30" font-size="4.45" text-anchor="middle" fill="#444">2000</text>
<line x1="371.20" y1="112.20" x2="371.20" y2="113.40" stroke="#555" stroke-width="0.4"/>
<text x="371.20" y="117.30" font-size="4.45" text-anchor="middle" fill="#444">3000</text>
<text x="392.65" y="94.80" font-size="6.95" font-weight="bold" text-anchor="end" fill="#C92238">NES: 1.54</text>
<text x="292.90" y="124.50" font-size="5.95" font-weight="bold" fill="#111">Chemokine signaling pathway</text>
<rect x="293.2" y="126.4" width="99.8" height="24.2" fill="#fff" stroke="#b4b4b4" stroke-width="0.5"/>
<rect x="298.25" y="127.50" width="3.15" height="21.95" fill="#909090"/>
<rect x="303.90" y="127.90" width="1.20" height="21.55" fill="#a0a0a0"/>
<rect x="305.10" y="128.10" width="1.90" height="21.35" fill="#909090"/>
<rect x="308.25" y="128.40" width="2.50" height="21.05" fill="#505050"/>
<rect x="312.60" y="128.90" width="3.80" height="20.55" fill="#404040"/>
<rect x="318.25" y="129.40" width="1.85" height="20.05" fill="#808080"/>
<rect x="320.10" y="129.60" width="1.90" height="19.85" fill="#202020"/>
<rect x="325.75" y="130.20" width="1.25" height="19.25" fill="#909090"/>
<rect x="330.10" y="130.80" width="2.50" height="18.65" fill="#a0a0a0"/>
<rect x="335.75" y="131.40" width="1.25" height="18.05" fill="#404040"/>
<rect x="339.50" y="132.00" width="1.90" height="17.45" fill="#808080"/>
<rect x="343.25" y="134.00" width="1.50" height="15.45" fill="#606060"/>
<rect x="347.00" y="134.60" width="1.90" height="14.85" fill="#707070"/>
<rect x="350.75" y="135.90" width="1.25" height="13.55" fill="#808080"/>
<rect x="353.90" y="136.50" width="0.85" height="12.95" fill="#808080"/>
<rect x="360.10" y="138.75" width="1.30" height="10.70" fill="#606060"/>
<rect x="363.25" y="140.00" width="1.25" height="9.45" fill="#707070"/>
<rect x="365.10" y="140.50" width="1.30" height="8.95" fill="#909090"/>
<rect x="368.90" y="142.10" width="1.20" height="7.35" fill="#606060"/>
<rect x="375.10" y="144.60" width="0.90" height="4.85" fill="#909090"/>
<rect x="378.25" y="146.50" width="1.25" height="2.95" fill="#bbb"/>
<rect x="380.75" y="147.10" width="1.00" height="2.35" fill="#bbb"/>
<line x1="291.80" y1="127.30" x2="293.20" y2="127.30" stroke="#555" stroke-width="0.4"/>
<text x="291.40" y="129.20" font-size="4.45" text-anchor="end" fill="#444">1.00</text>
<line x1="291.80" y1="132.84" x2="293.20" y2="132.84" stroke="#555" stroke-width="0.4"/>
<text x="291.40" y="134.74" font-size="4.45" text-anchor="end" fill="#444">0.75</text>
<line x1="291.80" y1="138.38" x2="293.20" y2="138.38" stroke="#555" stroke-width="0.4"/>
<text x="291.40" y="140.28" font-size="4.45" text-anchor="end" fill="#444">0.50</text>
<line x1="291.80" y1="143.91" x2="293.20" y2="143.91" stroke="#555" stroke-width="0.4"/>
<text x="291.40" y="145.81" font-size="4.45" text-anchor="end" fill="#444">0.25</text>
<line x1="291.80" y1="149.45" x2="293.20" y2="149.45" stroke="#555" stroke-width="0.4"/>
<text x="291.40" y="151.35" font-size="4.45" text-anchor="end" fill="#444">0.00</text>
<line x1="298.60" y1="150.60" x2="298.60" y2="151.80" stroke="#555" stroke-width="0.4"/>
<text x="298.60" y="155.70" font-size="4.45" text-anchor="middle" fill="#444">0</text>
<line x1="322.80" y1="150.60" x2="322.80" y2="151.80" stroke="#555" stroke-width="0.4"/>
<text x="322.80" y="155.70" font-size="4.45" text-anchor="middle" fill="#444">1000</text>
<line x1="347.00" y1="150.60" x2="347.00" y2="151.80" stroke="#555" stroke-width="0.4"/>
<text x="347.00" y="155.70" font-size="4.45" text-anchor="middle" fill="#444">2000</text>
<line x1="371.20" y1="150.60" x2="371.20" y2="151.80" stroke="#555" stroke-width="0.4"/>
<text x="371.20" y="155.70" font-size="4.45" text-anchor="middle" fill="#444">3000</text>
<text x="392.65" y="133.20" font-size="6.95" font-weight="bold" text-anchor="end" fill="#C92238">NES: 1.46</text>
<text x="292.90" y="163.90" font-size="5.95" font-weight="bold" fill="#111">Primary immunodeficiency</text>
<rect x="293.2" y="165.8" width="99.8" height="24.2" fill="#fff" stroke="#b4b4b4" stroke-width="0.5"/>
<rect x="298.90" y="166.75" width="0.85" height="22.10" fill="#808080"/>
<rect x="309.50" y="167.00" width="1.50" height="21.85" fill="#303030"/>
<rect x="312.60" y="167.20" width="0.90" height="21.65" fill="#808080"/>
<rect x="317.60" y="167.50" width="1.30" height="21.35" fill="#707070"/>
<rect x="325.10" y="168.00" width="1.30" height="20.85" fill="#505050"/>
<rect x="327.60" y="168.20" width="1.30" height="20.65" fill="#808080"/>
<rect x="352.00" y="176.10" width="1.00" height="12.75" fill="#707070"/>
<line x1="291.80" y1="166.70" x2="293.20" y2="166.70" stroke="#555" stroke-width="0.4"/>
<text x="291.40" y="168.60" font-size="4.45" text-anchor="end" fill="#444">1.00</text>
<line x1="291.80" y1="172.24" x2="293.20" y2="172.24" stroke="#555" stroke-width="0.4"/>
<text x="291.40" y="174.14" font-size="4.45" text-anchor="end" fill="#444">0.75</text>
<line x1="291.80" y1="177.78" x2="293.20" y2="177.78" stroke="#555" stroke-width="0.4"/>
<text x="291.40" y="179.68" font-size="4.45" text-anchor="end" fill="#444">0.50</text>
<line x1="291.80" y1="183.31" x2="293.20" y2="183.31" stroke="#555" stroke-width="0.4"/>
<text x="291.40" y="185.21" font-size="4.45" text-anchor="end" fill="#444">0.25</text>
<line x1="291.80" y1="188.85" x2="293.20" y2="188.85" stroke="#555" stroke-width="0.4"/>
<text x="291.40" y="190.75" font-size="4.45" text-anchor="end" fill="#444">0.00</text>
<line x1="298.60" y1="190.00" x2="298.60" y2="191.20" stroke="#555" stroke-width="0.4"/>
<text x="298.60" y="195.10" font-size="4.45" text-anchor="middle" fill="#444">0</text>
<line x1="322.80" y1="190.00" x2="322.80" y2="191.20" stroke="#555" stroke-width="0.4"/>
<text x="322.80" y="195.10" font-size="4.45" text-anchor="middle" fill="#444">1000</text>
<line x1="347.00" y1="190.00" x2="347.00" y2="191.20" stroke="#555" stroke-width="0.4"/>
<text x="347.00" y="195.10" font-size="4.45" text-anchor="middle" fill="#444">2000</text>
<line x1="371.20" y1="190.00" x2="371.20" y2="191.20" stroke="#555" stroke-width="0.4"/>
<text x="371.20" y="195.10" font-size="4.45" text-anchor="middle" fill="#444">3000</text>
<text x="392.65" y="172.60" font-size="6.95" font-weight="bold" text-anchor="end" fill="#C92238">NES: 1.76</text>
<rect x="65.80" y="203.90" width="4.50" height="8.55" fill="#F0A0B0"/>
<rect x="119.20" y="203.90" width="4.50" height="8.55" fill="#F0A0B0"/>
<rect x="145.90" y="203.90" width="4.50" height="8.55" fill="#202020"/>
<rect x="150.35" y="203.90" width="4.50" height="8.55" fill="#4A4A4A"/>
<rect x="203.75" y="203.90" width="4.50" height="8.55" fill="#303038"/>
<rect x="208.20" y="203.90" width="4.50" height="8.55" fill="#F0A0A8"/>
<rect x="212.65" y="203.90" width="4.50" height="8.55" fill="#E85060"/>
<rect x="248.25" y="203.90" width="4.50" height="8.55" fill="#E87080"/>
<rect x="266.05" y="203.90" width="4.50" height="8.55" fill="#707070"/>
<rect x="270.50" y="203.90" width="4.50" height="8.55" fill="#606060"/>
<rect x="279.40" y="203.90" width="4.50" height="8.55" fill="#101010"/>
<rect x="283.85" y="203.90" width="4.50" height="8.55" fill="#303030"/>
<rect x="292.75" y="203.90" width="4.50" height="8.55" fill="#E05060"/>
<rect x="297.20" y="203.90" width="4.50" height="8.55" fill="#304030"/>
<rect x="301.65" y="203.90" width="4.50" height="8.55" fill="#F08088"/>
<rect x="306.10" y="203.90" width="4.50" height="8.55" fill="#F4A0A8"/>
<rect x="319.45" y="203.90" width="4.50" height="8.55" fill="#E86070"/>
<rect x="323.90" y="203.90" width="4.50" height="8.55" fill="#505050"/>
<rect x="123.65" y="212.40" width="4.50" height="8.55" fill="#E01828"/>
<rect x="172.60" y="212.40" width="4.50" height="8.55" fill="#A0A0A0"/>
<rect x="194.85" y="212.40" width="4.50" height="8.55" fill="#E04858"/>
<rect x="199.30" y="212.40" width="4.50" height="8.55" fill="#A89898"/>
<rect x="203.75" y="212.40" width="4.50" height="8.55" fill="#404048"/>
<rect x="217.10" y="212.40" width="4.50" height="8.55" fill="#505050"/>
<rect x="221.55" y="212.40" width="4.50" height="8.55" fill="#6A5050"/>
<rect x="226.00" y="212.40" width="4.50" height="8.55" fill="#606060"/>
<rect x="252.70" y="212.40" width="4.50" height="8.55" fill="#181818"/>
<rect x="257.15" y="212.40" width="4.50" height="8.55" fill="#C8C8C8"/>
<rect x="261.60" y="212.40" width="4.50" height="8.55" fill="#505050"/>
<rect x="266.05" y="212.40" width="4.50" height="8.55" fill="#606060"/>
<rect x="270.50" y="212.40" width="4.50" height="8.55" fill="#585858"/>
<rect x="279.40" y="212.40" width="4.50" height="8.55" fill="#101010"/>
<rect x="283.85" y="212.40" width="4.50" height="8.55" fill="#303030"/>
<rect x="288.30" y="212.40" width="4.50" height="8.55" fill="#707070"/>
<rect x="319.45" y="212.40" width="4.50" height="8.55" fill="#E86070"/>
<rect x="323.90" y="212.40" width="4.50" height="8.55" fill="#606060"/>
<rect x="332.80" y="212.40" width="4.50" height="8.55" fill="#8A7A80"/>
<rect x="341.70" y="212.40" width="4.50" height="8.55" fill="#303030"/>
<rect x="359.50" y="212.40" width="4.50" height="8.55" fill="#E02030"/>
<rect x="363.95" y="212.40" width="4.50" height="8.55" fill="#606878"/>
<rect x="372.85" y="212.40" width="4.50" height="8.55" fill="#303030"/>
<rect x="381.75" y="212.40" width="4.50" height="8.55" fill="#808080"/>
<rect x="386.20" y="212.40" width="4.50" height="8.55" fill="#607070"/>
<rect x="390.65" y="212.40" width="4.50" height="8.55" fill="#E83040"/>
<rect x="395.10" y="212.40" width="4.50" height="8.55" fill="#808080"/>
<rect x="48.00" y="220.90" width="4.50" height="8.55" fill="#F4B6BE"/>
<rect x="52.45" y="220.90" width="4.50" height="8.55" fill="#F0A8B2"/>
<rect x="128.10" y="220.90" width="4.50" height="8.55" fill="#6A6A6A"/>
<rect x="132.55" y="220.90" width="4.50" height="8.55" fill="#0E0E0E"/>
<rect x="137.00" y="220.90" width="4.50" height="8.55" fill="#505050"/>
<rect x="163.70" y="220.90" width="4.50" height="8.55" fill="#8C8C8C"/>
<rect x="177.05" y="220.90" width="4.50" height="8.55" fill="#E05A6A"/>
<rect x="181.50" y="220.90" width="4.50" height="8.55" fill="#C07078"/>
<rect x="185.95" y="220.90" width="4.50" height="8.55" fill="#303030"/>
<rect x="190.40" y="220.90" width="4.50" height="8.55" fill="#E06A78"/>
<rect x="199.30" y="220.90" width="4.50" height="8.55" fill="#A0A0A0"/>
<rect x="221.55" y="220.90" width="4.50" height="8.55" fill="#606868"/>
<rect x="261.60" y="220.90" width="4.50" height="8.55" fill="#484848"/>
<rect x="266.05" y="220.90" width="4.50" height="8.55" fill="#585858"/>
<rect x="270.50" y="220.90" width="4.50" height="8.55" fill="#505050"/>
<rect x="274.95" y="220.90" width="4.50" height="8.55" fill="#606060"/>
<rect x="292.75" y="220.90" width="4.50" height="8.55" fill="#E05060"/>
<rect x="297.20" y="220.90" width="4.50" height="8.55" fill="#303830"/>
<rect x="315.00" y="220.90" width="4.50" height="8.55" fill="#404040"/>
<rect x="323.90" y="220.90" width="4.50" height="8.55" fill="#405050"/>
<rect x="328.35" y="220.90" width="4.50" height="8.55" fill="#606060"/>
<rect x="341.70" y="220.90" width="4.50" height="8.55" fill="#303030"/>
<rect x="346.15" y="220.90" width="4.50" height="8.55" fill="#505050"/>
<rect x="355.05" y="220.90" width="4.50" height="8.55" fill="#E02030"/>
<rect x="368.40" y="220.90" width="4.50" height="8.55" fill="#303030"/>
<rect x="381.75" y="220.90" width="4.50" height="8.55" fill="#808080"/>
<rect x="395.10" y="220.90" width="4.50" height="8.55" fill="#606060"/>
<rect x="56.90" y="229.40" width="4.50" height="8.55" fill="#262626"/>
<rect x="61.35" y="229.40" width="4.50" height="8.55" fill="#404040"/>
<rect x="70.25" y="229.40" width="4.50" height="8.55" fill="#3A3A3A"/>
<rect x="74.70" y="229.40" width="4.50" height="8.55" fill="#4C4C4C"/>
<rect x="79.15" y="229.40" width="4.50" height="8.55" fill="#E84858"/>
<rect x="83.60" y="229.40" width="4.50" height="8.55" fill="#1C1C1C"/>
<rect x="88.05" y="229.40" width="4.50" height="8.55" fill="#ABABAB"/>
<rect x="92.50" y="229.40" width="4.50" height="8.55" fill="#9C9C9C"/>
<rect x="96.95" y="229.40" width="4.50" height="8.55" fill="#7C7C7C"/>
<rect x="101.40" y="229.40" width="4.50" height="8.55" fill="#3A3A3A"/>
<rect x="105.85" y="229.40" width="4.50" height="8.55" fill="#6C6C6C"/>
<rect x="110.30" y="229.40" width="4.50" height="8.55" fill="#333333"/>
<rect x="114.75" y="229.40" width="4.50" height="8.55" fill="#A2A2A2"/>
<rect x="141.45" y="229.40" width="4.50" height="8.55" fill="#8A8A8A"/>
<rect x="154.80" y="229.40" width="4.50" height="8.55" fill="#3A3A3A"/>
<rect x="159.25" y="229.40" width="4.50" height="8.55" fill="#4A4A4A"/>
<rect x="168.15" y="229.40" width="4.50" height="8.55" fill="#202020"/>
<rect x="230.45" y="229.40" width="4.50" height="8.55" fill="#3A3A3A"/>
<rect x="234.90" y="229.40" width="4.50" height="8.55" fill="#3C3C3C"/>
<rect x="239.35" y="229.40" width="4.50" height="8.55" fill="#8A8A8A"/>
<rect x="243.80" y="229.40" width="4.50" height="8.55" fill="#3A3A3A"/>
<rect x="310.55" y="229.40" width="4.50" height="8.55" fill="#303030"/>
<rect x="337.25" y="229.40" width="4.50" height="8.55" fill="#404040"/>
<rect x="350.60" y="229.40" width="4.50" height="8.55" fill="#202020"/>
<rect x="377.30" y="229.40" width="4.50" height="8.55" fill="#303030"/>
<text x="47.4" y="206.3" font-size="4.45" text-anchor="end" fill="#222">Phosphatidylinositol</text>
<text x="47.4" y="210.4" font-size="4.45" text-anchor="end" fill="#222">signaling system</text>
<text x="47.4" y="215.7" font-size="4.45" text-anchor="end" fill="#222">Fc gamma R−mediated</text>
<text x="47.4" y="219.6" font-size="4.45" text-anchor="end" fill="#222">phagocytosis</text>
<text x="47.4" y="224.5" font-size="4.45" text-anchor="end" fill="#222">Chemokine signaling</text>
<text x="47.4" y="228.7" font-size="4.45" text-anchor="end" fill="#222">pathway</text>
<text x="47.4" y="235.3" font-size="4.45" text-anchor="end" fill="#222">Cell cycle</text>
<text transform="translate(51.42,242.4) rotate(-45)" font-size="4.6" text-anchor="end" fill="#333">Cdk1</text>
<text transform="translate(55.88,242.4) rotate(-45)" font-size="4.6" text-anchor="end" fill="#333">Plcb1</text>
<text transform="translate(60.33,242.4) rotate(-45)" font-size="4.6" text-anchor="end" fill="#333">Inpp5e</text>
<text transform="translate(64.78,242.4) rotate(-45)" font-size="4.6" text-anchor="end" fill="#333">Pik3ca</text>
<text transform="translate(69.23,242.4) rotate(-45)" font-size="4.6" text-anchor="end" fill="#333">Ccnb1</text>
<text transform="translate(73.67,242.4) rotate(-45)" font-size="4.6" text-anchor="end" fill="#333">Mcm2</text>
<text transform="translate(78.12,242.4) rotate(-45)" font-size="4.6" text-anchor="end" fill="#333">Bub1b</text>
<text transform="translate(82.58,242.4) rotate(-45)" font-size="4.6" text-anchor="end" fill="#333">Cdc20</text>
<text transform="translate(87.02,242.4) rotate(-45)" font-size="4.6" text-anchor="end" fill="#333">Plk1</text>
<text transform="translate(91.48,242.4) rotate(-45)" font-size="4.6" text-anchor="end" fill="#333">Ccna2</text>
<text transform="translate(95.92,242.4) rotate(-45)" font-size="4.6" text-anchor="end" fill="#333">Mcm4</text>
<text transform="translate(100.38,242.4) rotate(-45)" font-size="4.6" text-anchor="end" fill="#333">Cdc6</text>
<text transform="translate(104.83,242.4) rotate(-45)" font-size="4.6" text-anchor="end" fill="#333">Espl1</text>
<text transform="translate(109.28,242.4) rotate(-45)" font-size="4.6" text-anchor="end" fill="#333">Ttk</text>
<text transform="translate(113.73,242.4) rotate(-45)" font-size="4.6" text-anchor="end" fill="#333">Mad2l1</text>
<text transform="translate(118.17,242.4) rotate(-45)" font-size="4.6" text-anchor="end" fill="#333">Chek1</text>
<text transform="translate(122.62,242.4) rotate(-45)" font-size="4.6" text-anchor="end" fill="#333">Orc1</text>
<text transform="translate(127.08,242.4) rotate(-45)" font-size="4.6" text-anchor="end" fill="#333">Prkcb</text>
<text transform="translate(131.52,242.4) rotate(-45)" font-size="4.6" text-anchor="end" fill="#333">Fcgr2b</text>
<text transform="translate(135.97,242.4) rotate(-45)" font-size="4.6" text-anchor="end" fill="#333">Wasl</text>
<text transform="translate(140.42,242.4) rotate(-45)" font-size="4.6" text-anchor="end" fill="#333">Rac2</text>
<text transform="translate(144.88,242.4) rotate(-45)" font-size="4.6" text-anchor="end" fill="#333">Vav1</text>
<text transform="translate(149.32,242.4) rotate(-45)" font-size="4.6" text-anchor="end" fill="#333">Pik3cd</text>
<text transform="translate(153.77,242.4) rotate(-45)" font-size="4.6" text-anchor="end" fill="#333">Cxcl10</text>
<text transform="translate(158.22,242.4) rotate(-45)" font-size="4.6" text-anchor="end" fill="#333">Ccl5</text>
<text transform="translate(162.68,242.4) rotate(-45)" font-size="4.6" text-anchor="end" fill="#333">Cxcr4</text>
<text transform="translate(167.12,242.4) rotate(-45)" font-size="4.6" text-anchor="end" fill="#333">Lyn</text>
<text transform="translate(171.57,242.4) rotate(-45)" font-size="4.6" text-anchor="end" fill="#333">Syk</text>
<text transform="translate(176.02,242.4) rotate(-45)" font-size="4.6" text-anchor="end" fill="#333">Gnb4</text>
<text transform="translate(180.47,242.4) rotate(-45)" font-size="4.6" text-anchor="end" fill="#333">Ptk2b</text>
<text transform="translate(184.93,242.4) rotate(-45)" font-size="4.6" text-anchor="end" fill="#333">Ccr7</text>
<text transform="translate(189.38,242.4) rotate(-45)" font-size="4.6" text-anchor="end" fill="#333">Ncf1</text>
<text transform="translate(193.82,242.4) rotate(-45)" font-size="4.6" text-anchor="end" fill="#333">Cdc42</text>
<text transform="translate(198.27,242.4) rotate(-45)" font-size="4.6" text-anchor="end" fill="#333">Arpc1b</text>
<text transform="translate(202.72,242.4) rotate(-45)" font-size="4.6" text-anchor="end" fill="#333">Dock2</text>
<text transform="translate(207.18,242.4) rotate(-45)" font-size="4.6" text-anchor="end" fill="#333">Itpr3</text>
<text transform="translate(211.62,242.4) rotate(-45)" font-size="4.6" text-anchor="end" fill="#333">Plcg2</text>
<text transform="translate(216.07,242.4) rotate(-45)" font-size="4.6" text-anchor="end" fill="#333">Cxcl9</text>
<text transform="translate(220.52,242.4) rotate(-45)" font-size="4.6" text-anchor="end" fill="#333">Elmo1</text>
<text transform="translate(224.97,242.4) rotate(-45)" font-size="4.6" text-anchor="end" fill="#333">Fgr</text>
<text transform="translate(229.43,242.4) rotate(-45)" font-size="4.6" text-anchor="end" fill="#333">Hck</text>
<text transform="translate(233.88,242.4) rotate(-45)" font-size="4.6" text-anchor="end" fill="#333">Ccl19</text>
<text transform="translate(238.32,242.4) rotate(-45)" font-size="4.6" text-anchor="end" fill="#333">Stat1</text>
<text transform="translate(242.77,242.4) rotate(-45)" font-size="4.6" text-anchor="end" fill="#333">Prex1</text>
<text transform="translate(247.22,242.4) rotate(-45)" font-size="4.6" text-anchor="end" fill="#333">Jak2</text>
<text transform="translate(251.68,242.4) rotate(-45)" font-size="4.6" text-anchor="end" fill="#333">Gng2</text>
<text transform="translate(256.12,242.4) rotate(-45)" font-size="4.6" text-anchor="end" fill="#333">Ccl4</text>
<text transform="translate(260.57,242.4) rotate(-45)" font-size="4.6" text-anchor="end" fill="#333">Cxcr3</text>
<text transform="translate(265.02,242.4) rotate(-45)" font-size="4.6" text-anchor="end" fill="#333">Prkcd</text>
<text transform="translate(269.48,242.4) rotate(-45)" font-size="4.6" text-anchor="end" fill="#333">Rock1</text>
<text transform="translate(273.93,242.4) rotate(-45)" font-size="4.6" text-anchor="end" fill="#333">Pip5k1c</text>
<text transform="translate(278.38,242.4) rotate(-45)" font-size="4.6" text-anchor="end" fill="#333">Dgkz</text>
<text transform="translate(282.82,242.4) rotate(-45)" font-size="4.6" text-anchor="end" fill="#333">Pten</text>
<text transform="translate(287.27,242.4) rotate(-45)" font-size="4.6" text-anchor="end" fill="#333">Calm3</text>
<text transform="translate(291.73,242.4) rotate(-45)" font-size="4.6" text-anchor="end" fill="#333">Impa2</text>
<text transform="translate(296.18,242.4) rotate(-45)" font-size="4.6" text-anchor="end" fill="#333">Synj2</text>
<text transform="translate(300.62,242.4) rotate(-45)" font-size="4.6" text-anchor="end" fill="#333">Pi4kb</text>
<text transform="translate(305.07,242.4) rotate(-45)" font-size="4.6" text-anchor="end" fill="#333">Mtmr6</text>
<text transform="translate(309.53,242.4) rotate(-45)" font-size="4.6" text-anchor="end" fill="#333">Cdkn1a</text>
<text transform="translate(313.98,242.4) rotate(-45)" font-size="4.6" text-anchor="end" fill="#333">Sfn</text>
<text transform="translate(318.43,242.4) rotate(-45)" font-size="4.6" text-anchor="end" fill="#333">E2f1</text>
<text transform="translate(322.88,242.4) rotate(-45)" font-size="4.6" text-anchor="end" fill="#333">Ccne2</text>
<text transform="translate(327.32,242.4) rotate(-45)" font-size="4.6" text-anchor="end" fill="#333">Smc1a</text>
<text transform="translate(331.78,242.4) rotate(-45)" font-size="4.6" text-anchor="end" fill="#333">Rb1</text>
<text transform="translate(336.23,242.4) rotate(-45)" font-size="4.6" text-anchor="end" fill="#333">Cdc25a</text>
<text transform="translate(340.68,242.4) rotate(-45)" font-size="4.6" text-anchor="end" fill="#333">Pkmyt1</text>
<text transform="translate(345.12,242.4) rotate(-45)" font-size="4.6" text-anchor="end" fill="#333">Ccnd3</text>
<text transform="translate(349.57,242.4) rotate(-45)" font-size="4.6" text-anchor="end" fill="#333">Gadd45b</text>
<text transform="translate(354.03,242.4) rotate(-45)" font-size="4.6" text-anchor="end" fill="#333">Wee1</text>
<text transform="translate(358.48,242.4) rotate(-45)" font-size="4.6" text-anchor="end" fill="#333">Bub1</text>
<text transform="translate(362.93,242.4) rotate(-45)" font-size="4.6" text-anchor="end" fill="#333">Mcm7</text>
<text transform="translate(367.38,242.4) rotate(-45)" font-size="4.6" text-anchor="end" fill="#333">Tfdp1</text>
<text transform="translate(371.82,242.4) rotate(-45)" font-size="4.6" text-anchor="end" fill="#333">Ywhae</text>
<text transform="translate(376.28,242.4) rotate(-45)" font-size="4.6" text-anchor="end" fill="#333">Cdc7</text>
<text transform="translate(380.73,242.4) rotate(-45)" font-size="4.6" text-anchor="end" fill="#333">Skp2</text>
<text transform="translate(385.18,242.4) rotate(-45)" font-size="4.6" text-anchor="end" fill="#333">Ccnh</text>
<text transform="translate(389.62,242.4) rotate(-45)" font-size="4.6" text-anchor="end" fill="#333">Zbtb17</text>
<text transform="translate(394.07,242.4) rotate(-45)" font-size="4.6" text-anchor="end" fill="#333">Abl1</text>
<text transform="translate(398.53,242.4) rotate(-45)" font-size="4.6" text-anchor="end" fill="#333">Smad3</text>
<text x="12.3" y="243.0" font-size="4.45" fill="#111">correlation</text>
<defs><linearGradient id="gc" x1="0" y1="0" x2="1" y2="0"><stop offset="0" stop-color="#000"/><stop offset="0.15" stop-color="#1e1e1e"/><stop offset="0.32" stop-color="#777"/><stop offset="0.5" stop-color="#fff"/><stop offset="0.7" stop-color="#F2A6AE"/><stop offset="1" stop-color="#D01F2C"/></linearGradient></defs>
<rect x="5" y="243.8" width="35" height="7.0" fill="url(#gc)"/>
<text x="11.6" y="253.9" font-size="3.6" text-anchor="middle" fill="#222">−0.5</text>
<text x="22.5" y="253.9" font-size="3.6" text-anchor="middle" fill="#222">0.0</text>
<text x="32.2" y="253.9" font-size="3.6" text-anchor="middle" fill="#222">0.5</text>
</svg></body></html>
